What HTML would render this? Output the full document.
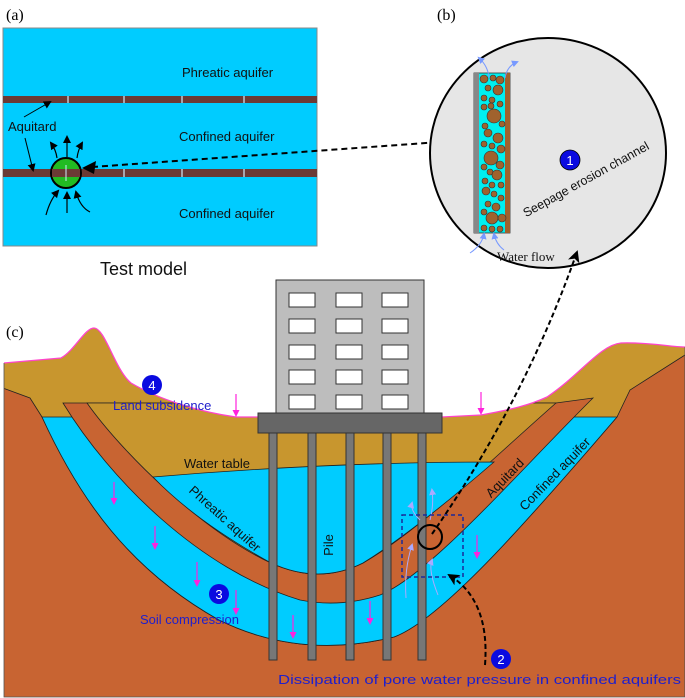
<!DOCTYPE html>
<html><head><meta charset="utf-8"><style>html,body{margin:0;padding:0;background:#fff}svg{display:block}text{font-family:"Liberation Sans",sans-serif}</style></head><body>
<svg width="685" height="698" viewBox="0 0 685 698" xmlns="http://www.w3.org/2000/svg">
<defs>
<marker id="ah" markerWidth="8" markerHeight="8" refX="6" refY="4" orient="auto" markerUnits="userSpaceOnUse"><path d="M0,0 L8,4 L0,8 Z" fill="#000"/></marker>
<marker id="ahb" markerWidth="12" markerHeight="12" refX="10" refY="6" orient="auto" markerUnits="userSpaceOnUse"><path d="M0,0 L12,6 L0,12 L3,6 Z" fill="#000"/></marker>
<marker id="ahp" markerWidth="7" markerHeight="7" refX="5" refY="3.5" orient="auto" markerUnits="userSpaceOnUse"><path d="M0,0 L7,3.5 L0,7 Z" fill="#ff22dd"/></marker>
<marker id="ahl" markerWidth="7" markerHeight="7" refX="5" refY="3.5" orient="auto" markerUnits="userSpaceOnUse"><path d="M0,0 L7,3.5 L0,7 Z" fill="#7799ff"/></marker>
<marker id="ahv" markerWidth="7" markerHeight="7" refX="5" refY="3.5" orient="auto" markerUnits="userSpaceOnUse"><path d="M0,0 L7,3.5 L0,7 Z" fill="#aaaaff"/></marker>
<clipPath id="ground"><path d="M4,363 L61,358 C75,350 85,328 94,328 C105,328 115,370 131,383 C160,400 200,412 236,417 L442,417 L481,415 C510,410 530,405 547,397 C580,375 600,345 621,343 C650,342 670,347 685,347 L685,697 L4,697 Z"/></clipPath>
</defs>

<!-- Panel (a) -->
<text x="6" y="20" font-size="16" style="font-family:'Liberation Serif',serif">(a)</text>
<rect x="3" y="28" width="314" height="218" fill="#00ccff" stroke="#888" stroke-width="1"/>
<rect x="3" y="96" width="314" height="7" fill="#6b3a35"/>
<rect x="3" y="169" width="314" height="8" fill="#6b3a35"/>
<g stroke="#cfefff" stroke-width="1.2">
<line x1="68" y1="96" x2="68" y2="103"/><line x1="124" y1="96" x2="124" y2="103"/><line x1="182" y1="96" x2="182" y2="103"/><line x1="244" y1="96" x2="244" y2="103"/>
<line x1="124" y1="169" x2="124" y2="177"/><line x1="182" y1="169" x2="182" y2="177"/><line x1="244" y1="169" x2="244" y2="177"/>
</g>
<text x="182" y="77" font-size="13" fill="#111">Phreatic aquifer</text>
<text x="179" y="141" font-size="13" fill="#111">Confined aquifer</text>
<text x="179" y="218" font-size="13" fill="#111">Confined aquifer</text>
<text x="8" y="131" font-size="13" fill="#111">Aquitard</text>
<g stroke="#000" stroke-width="1" fill="none">
<line x1="24" y1="117" x2="50" y2="102" marker-end="url(#ah)"/>
<line x1="25" y1="138" x2="33" y2="170" marker-end="url(#ah)"/>
</g>
<circle cx="66" cy="173" r="15" fill="#22bb22" stroke="#000" stroke-width="2"/>
<rect x="52" y="169" width="28" height="8" fill="#6b3a35"/>
<line x1="66" y1="165" x2="66" y2="181" stroke="#cfefff" stroke-width="1"/>
<g stroke="#000" stroke-width="1.2" fill="none">
<line x1="67" y1="157" x2="67" y2="137" marker-end="url(#ah)"/>
<path d="M57,158 Q56,150 51,143" marker-end="url(#ah)"/>
<path d="M77,158 Q78,150 82,143" marker-end="url(#ah)"/>
<path d="M46,215 Q50,200 58,191" marker-end="url(#ah)"/>
<line x1="67" y1="213" x2="67" y2="193" marker-end="url(#ah)"/>
<path d="M90,212 Q80,207 76,192" marker-end="url(#ah)"/>
</g>
<line x1="92" y1="167" x2="440" y2="142" stroke="#000" stroke-width="2" stroke-dasharray="6,4"/>
<path d="M82,168 L96,161 L94,174 Z" fill="#000"/>
<path d="M446,142 L432,136 L435,142 L433,148 Z" fill="#000"/>
<text x="100" y="275" font-size="18" fill="#111">Test model</text>

<!-- Panel (b) -->
<text x="437" y="20" font-size="16" style="font-family:'Liberation Serif',serif">(b)</text>
<ellipse cx="548" cy="153" rx="118" ry="115" fill="#e6e6e6" stroke="#000" stroke-width="2"/>
<rect x="474" y="73" width="36" height="160" fill="#00f0f0" stroke="#333" stroke-width="0.8"/>
<rect x="474" y="73" width="5" height="160" fill="#888"/>
<rect x="505" y="73" width="5" height="160" fill="#a0622d"/>
<g fill="#a0622d" stroke="#333" stroke-width="0.6">
<circle cx="484" cy="79" r="4"/><circle cx="493" cy="78" r="3"/><circle cx="500" cy="80" r="4"/><circle cx="488" cy="88" r="3"/><circle cx="498" cy="90" r="5"/><circle cx="484" cy="98" r="3"/><circle cx="492" cy="100" r="3"/><circle cx="484" cy="107" r="3"/><circle cx="491" cy="106" r="3"/><circle cx="500" cy="104" r="3"/><circle cx="494" cy="116" r="7"/><circle cx="485" cy="126" r="3"/><circle cx="502" cy="124" r="3"/><circle cx="488" cy="133" r="4"/><circle cx="498" cy="138" r="5"/><circle cx="484" cy="144" r="3"/><circle cx="492" cy="146" r="3"/><circle cx="501" cy="149" r="4"/><circle cx="491" cy="158" r="7"/><circle cx="484" cy="167" r="3"/><circle cx="500" cy="165" r="4"/><circle cx="490" cy="172" r="3"/><circle cx="497" cy="175" r="5"/><circle cx="485" cy="181" r="3"/><circle cx="492" cy="185" r="3"/><circle cx="501" cy="185" r="3"/><circle cx="486" cy="191" r="4"/><circle cx="494" cy="194" r="3"/><circle cx="501" cy="198" r="3"/><circle cx="488" cy="204" r="3"/><circle cx="496" cy="207" r="4"/><circle cx="484" cy="212" r="3"/><circle cx="492" cy="218" r="6"/><circle cx="502" cy="218" r="4"/><circle cx="484" cy="228" r="3"/><circle cx="492" cy="229" r="3"/><circle cx="500" cy="229" r="3"/>
</g>
<g stroke="#7799ff" stroke-width="1" fill="none">
<path d="M489,78 Q488,66 479,58" marker-end="url(#ahl)"/>
<path d="M505,78 Q507,66 517,62" marker-end="url(#ahl)"/>
<path d="M470,253 Q482,245 484,234" marker-end="url(#ahl)"/>
<path d="M504,250 Q496,244 494,234" marker-end="url(#ahl)"/>
</g>
<circle cx="570" cy="160" r="10" fill="#0a0ae0" stroke="#000" stroke-width="0.8"/>
<text x="570" y="165" font-size="13" fill="#fff" text-anchor="middle">1</text>
<text x="588" y="183" font-size="12.5" fill="#111" text-anchor="middle" transform="rotate(-29 588 183)">Seepage erosion channel</text>
<text x="497" y="261" font-size="13" style="font-family:'Liberation Serif',serif" fill="#111">Water flow</text>

<!-- Panel (c) -->
<text x="6" y="337" font-size="16" style="font-family:'Liberation Serif',serif">(c)</text>
<g clip-path="url(#ground)">
<rect x="0" y="320" width="685" height="378" fill="#c8962e"/>
<path d="M0,387 L30,398 L42,417 C80,500 130,570 219,620 Q300,660 394,637 C440,620 520,530 617,417 L630,390 L685,355 L685,698 L0,698 Z" fill="#c86432" stroke="#222" stroke-width="0.8"/>
<path d="M42,417 C80,500 130,570 219,620 Q300,660 394,637 C440,620 520,530 617,417 Z" fill="#00ccff" stroke="#222" stroke-width="0.8"/>
<path d="M63,403 C110,480 200,570 300,600 Q340,608 380,595 C430,575 520,470 593,398 L556,403 Z" fill="#c86432" stroke="#222" stroke-width="0.8"/>
<path d="M87,403 C120,450 200,530 271,563 Q319,585 363,563 C420,530 480,470 556,403 Z" fill="#c8962e" stroke="#222" stroke-width="0.8"/>
<path d="M153,477 Q330,462 494,462 C450,500 400,540 363,563 Q319,585 271,563 C220,535 180,505 153,477 Z" fill="#00ccff" stroke="#222" stroke-width="0.8"/>
</g>
<path d="M4,363 L61,358 C75,350 85,328 94,328 C105,328 115,370 131,383 C160,400 200,412 236,417 L442,417 L481,415 C510,410 530,405 547,397 C580,375 600,345 621,343 C650,342 670,347 685,347" fill="none" stroke="#ff44cc" stroke-width="1.3"/>
<path d="M4,363 L4,697 L685,697 L685,347" fill="none" stroke="#555" stroke-width="0.8"/>

<!-- building -->
<rect x="276" y="280" width="148" height="136" fill="#bdbdbd" stroke="#333" stroke-width="1"/>
<g fill="#fff" stroke="#333" stroke-width="1">
<rect x="289" y="293" width="26" height="14"/><rect x="336" y="293" width="26" height="14"/><rect x="382" y="293" width="26" height="14"/>
<rect x="289" y="319" width="26" height="14"/><rect x="336" y="319" width="26" height="14"/><rect x="382" y="319" width="26" height="14"/>
<rect x="289" y="345" width="26" height="14"/><rect x="336" y="345" width="26" height="14"/><rect x="382" y="345" width="26" height="14"/>
<rect x="289" y="370" width="26" height="14"/><rect x="336" y="370" width="26" height="14"/><rect x="382" y="370" width="26" height="14"/>
<rect x="289" y="395" width="26" height="14"/><rect x="336" y="395" width="26" height="14"/><rect x="382" y="395" width="26" height="14"/>
</g>
<rect x="258" y="413" width="184" height="20" fill="#666" stroke="#333" stroke-width="1"/>
<g fill="#777" stroke="#333" stroke-width="1">
<rect x="269" y="433" width="8" height="227"/><rect x="308" y="433" width="8" height="227"/><rect x="346" y="433" width="8" height="227"/><rect x="383" y="433" width="8" height="227"/><rect x="418" y="433" width="8" height="227"/>
</g>

<!-- labels -->
<text x="184" y="468" font-size="13" fill="#111">Water table</text>
<text x="222" y="522" font-size="13" fill="#111" text-anchor="middle" transform="rotate(42 222 522)">Phreatic aquifer</text>
<text x="333" y="545" font-size="13" fill="#111" text-anchor="middle" transform="rotate(-90 333 545)">Pile</text>
<text x="508" y="481" font-size="13" fill="#111" text-anchor="middle" transform="rotate(-46 508 481)">Aquitard</text>
<text x="558" y="477" font-size="13" fill="#111" text-anchor="middle" transform="rotate(-46 558 477)">Confined aquifer</text>

<!-- pink arrows -->
<g stroke="#ff22dd" stroke-width="1.2">
<line x1="236" y1="394" x2="236" y2="415" marker-end="url(#ahp)"/>
<line x1="481" y1="392" x2="481" y2="413" marker-end="url(#ahp)"/>
<line x1="114" y1="482" x2="114" y2="503" marker-end="url(#ahp)"/>
<line x1="155" y1="526" x2="155" y2="548" marker-end="url(#ahp)"/>
<line x1="197" y1="562" x2="197" y2="585" marker-end="url(#ahp)"/>
<line x1="236" y1="590" x2="236" y2="613" marker-end="url(#ahp)"/>
<line x1="293" y1="615" x2="293" y2="637" marker-end="url(#ahp)"/>
<line x1="370" y1="601" x2="370" y2="623" marker-end="url(#ahp)"/>
<line x1="477" y1="535" x2="477" y2="557" marker-end="url(#ahp)"/>
</g>
<g stroke="#aaaaff" stroke-width="1" fill="none">
<path d="M406,598 Q404,570 412,545" marker-end="url(#ahv)"/>
<path d="M438,595 Q428,570 432,560" marker-end="url(#ahv)"/>
<path d="M420,520 Q410,510 412,503" marker-end="url(#ahv)"/>
<path d="M430,520 Q434,505 432,490" marker-end="url(#ahv)"/>
</g>

<rect x="402" y="515" width="61" height="62" fill="none" stroke="#1a2a9a" stroke-width="1.5" stroke-dasharray="4,3"/>
<circle cx="430" cy="537" r="12" fill="none" stroke="#000" stroke-width="2"/>
<path d="M432,534 Q525,400 577,252" fill="none" stroke="#000" stroke-width="2" stroke-dasharray="5,3" marker-end="url(#ahb)"/>
<path d="M485,665 Q490,600 449,575" fill="none" stroke="#000" stroke-width="2" stroke-dasharray="5,3" marker-end="url(#ahb)"/>

<circle cx="152" cy="385" r="10" fill="#0a0ae0"/>
<text x="152" y="390" font-size="13" fill="#fff" text-anchor="middle">4</text>
<text x="113" y="410" font-size="13" fill="#2020cc">Land subsidence</text>
<circle cx="219" cy="594" r="10" fill="#0a0ae0"/>
<text x="219" y="599" font-size="13" fill="#fff" text-anchor="middle">3</text>
<text x="140" y="624" font-size="13" fill="#2020cc">Soil compression</text>
<circle cx="501" cy="659" r="10" fill="#0a0ae0"/>
<text x="501" y="664" font-size="13" fill="#fff" text-anchor="middle">2</text>
<text x="278" y="684" font-size="13" fill="#2020cc" textLength="403" lengthAdjust="spacingAndGlyphs">Dissipation of pore water pressure in confined aquifers</text>
</svg>
</body></html>
